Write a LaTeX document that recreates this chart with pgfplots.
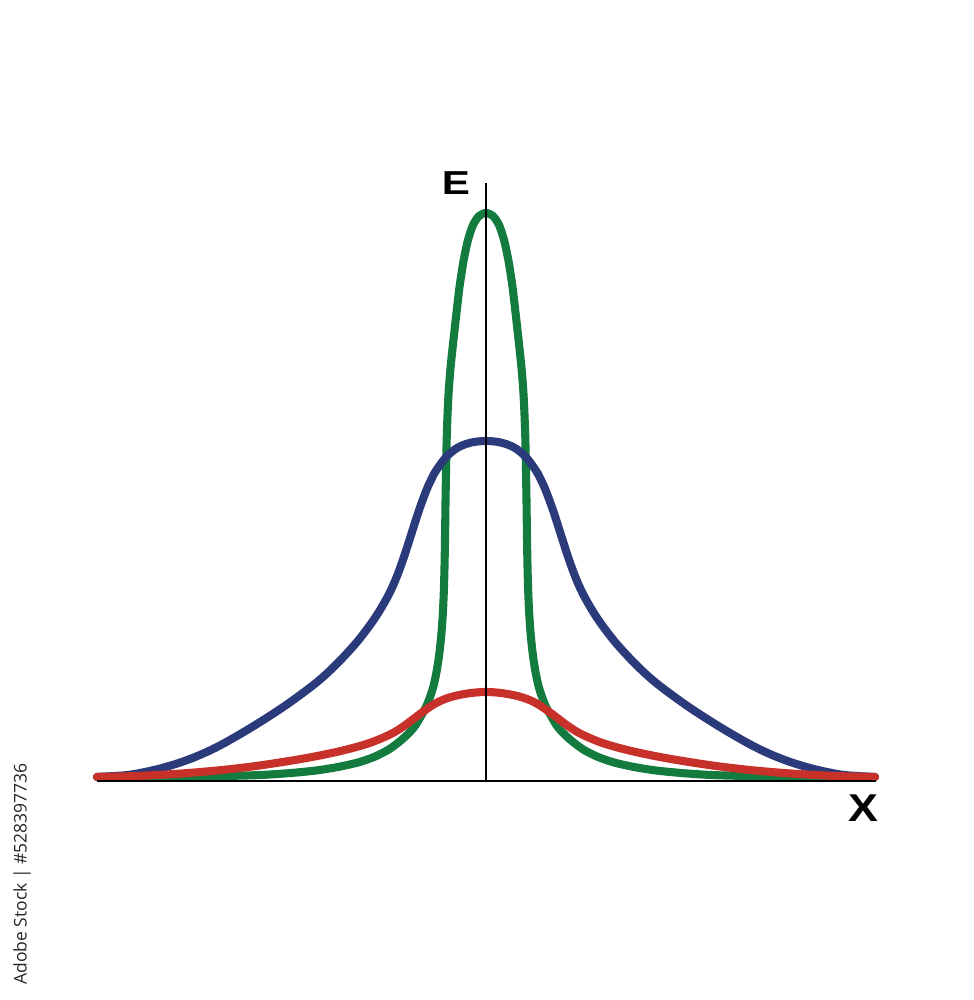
\documentclass[border=0pt]{standalone}
\usepackage{fontspec}
\setmainfont{Liberation Sans}
\newfontfamily\wmfont{Open Sans}
\usepackage{pgfplots}
\pgfplotsset{compat=1.18}
\definecolor{cgreen}{HTML}{137B3E}
\definecolor{cblue}{HTML}{2A3A7A}
\definecolor{cred}{HTML}{C8302A}
\begin{document}
\begin{tikzpicture}
\path[use as bounding box] (0,0) rectangle (9.73cm,10cm);
\begin{axis}[
  at={(0,0)}, anchor=origin,
  scale only axis, width=9.73cm, height=10cm,
  xmin=0, xmax=973, ymin=0, ymax=1000,
  hide axis, clip=false,
]
% green
\addplot[cgreen, line width=2.3pt, smooth, tension=0.45, line cap=round, line join=round] coordinates {
(97,223) (146,223) (186,223.3) (226,224) (261,225) (291,227) (316,229.5) (338,233)
(358,237.5) (374,243) (388,250) (399,258) (408,266) (415,274) (421,284) (426,293)
(430,303) (433.5,314) (436.5,328) (439,344) (441.2,364) (442.8,386) (443.9,411)
(444.6,438) (445.1,468) (445.5,498) (446,528) (446.6,558) (447.5,585) (448.7,609)
(450.5,632) (453,656) (456,683) (459.5,713) (463.5,739) (468,760) (473,775) (479,784)
(486,787)
(493,784) (499,775) (504,760) (508.5,739) (512.5,713) (516,683) (519,656) (521.5,632)
(523.3,609) (524.5,585) (525.4,558) (526,528) (526.5,498) (526.9,468) (527.4,438)
(528.1,411) (529.2,386) (530.8,364) (533,344) (535.5,328) (538.5,314) (542,303)
(546,293) (551,284) (557,274) (564,266) (573,258) (584,250) (598,243) (614,237.5)
(634,233) (656,229.5) (681,227) (711,225) (746,224) (786,223.3) (826,223) (875,223)
};
% blue
\addplot[cblue, line width=2.3pt, smooth, tension=0.55, line cap=round, line join=round] coordinates {
(97,223) (126,224.8) (146,228.2) (166,233.1) (186,239.5) (206,247.7) (226,257.8)
(256,275.4) (286,294.9) (316,317.1) (336,335.3) (353,353.4) (362,364.3) (371,376.3)
(378.5,387.5) (386,400.3) (391,410) (396,421.4) (401,434.6) (406,449.3) (413,471.2)
(419,489.7) (426,508.8) (431,520) (436,529.3) (446,542.8) (456,551.3) (466,556)
(476,558.3) (486,559)
(496,558.3) (506,556) (516,551.3) (526,542.8) (536,529.3) (541,520) (546,508.8)
(553,489.7) (559,471.2) (566,449.3) (571,434.6) (576,421.4) (581,410) (586,400.3)
(593.5,387.5) (601,376.3) (610,364.3) (619,353.4) (636,335.3) (656,317.1)
(686,294.9) (716,275.4) (746,257.8) (766,247.7) (786,239.5) (806,233.1)
(826,228.2) (846,224.8) (875,223)
};
% red
\addplot[cred, line width=2.3pt, smooth, tension=0.55, line cap=round, line join=round] coordinates {
(97,223) (131,223.8) (166,225.5) (196,227.6) (226,230.4) (256,234) (286,238.5)
(311,242.8) (336,247.9) (356,252.9) (371,257.5) (384,262.75) (394,267.6) (404,274)
(414,281.5) (424,289) (434,295.7) (444,300.6) (456,304.3) (471,307) (486,308)
(501,307) (516,304.3) (528,300.6) (538,295.7) (548,289) (558,281.5) (568,274)
(578,267.6) (588,262.75) (601,257.5) (616,252.9) (636,247.9) (661,242.8)
(686,238.5) (716,234) (746,230.4) (776,227.6) (806,225.5) (841,223.8) (875,223)
};
% axes
\addplot[black, line width=0.75pt] coordinates {(97,219) (876,219)};
\addplot[black, line width=0.75pt] coordinates {(486,219) (486,817)};
\node[inner sep=0pt] at (axis cs:456,816.5) {\resizebox{8pt}{6.5pt}{\bfseries E}};
\node[inner sep=0pt] at (axis cs:863,191.5) {\resizebox{8.5pt}{7.6pt}{\bfseries X}};
\node[inner sep=0pt, rotate=90, text=black!85] at (axis cs:22,126)
  {\resizebox{63pt}{!}{\wmfont Adobe Stock | \#528397736}};
\end{axis}
\end{tikzpicture}
\end{document}
